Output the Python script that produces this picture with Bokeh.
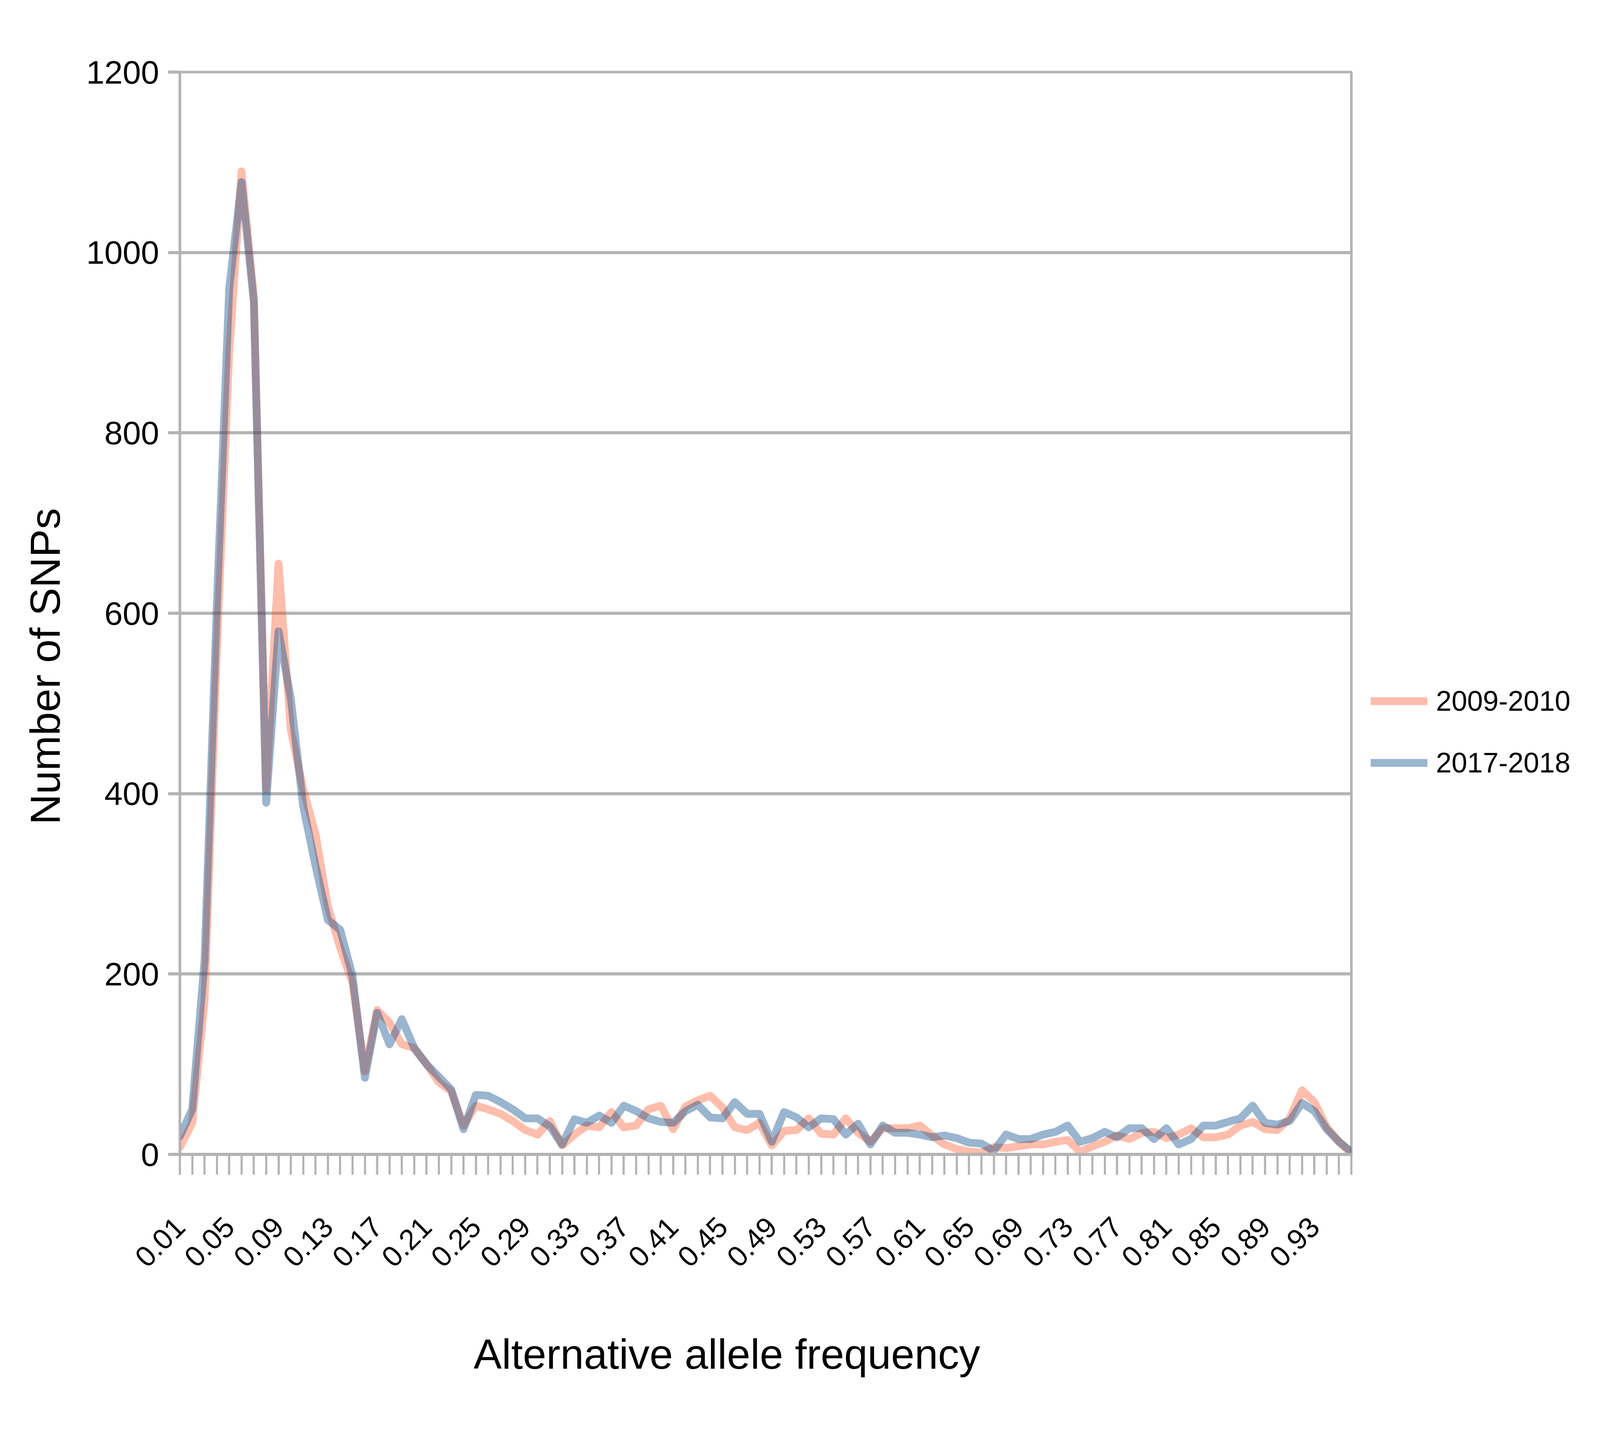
import math

from bokeh.embed import file_html
from bokeh.models import (ColumnDataSource, FixedTicker, Legend, LegendItem,
                          Range1d, Title)
from bokeh.plotting import figure
from bokeh.resources import INLINE

# alternative allele frequency bins (x categories)
freq = ["0.01", "0.02", "0.03", "0.04", "0.05", "0.06", "0.07", "0.08", "0.09", "0.10",
        "0.11", "0.12", "0.13", "0.14", "0.15", "0.16", "0.17", "0.18", "0.19", "0.20",
        "0.21", "0.22", "0.23", "0.24", "0.25", "0.26", "0.27", "0.28", "0.29", "0.30",
        "0.31", "0.32", "0.33", "0.34", "0.35", "0.36", "0.37", "0.38", "0.39", "0.40",
        "0.41", "0.42", "0.43", "0.44", "0.45", "0.46", "0.47", "0.48", "0.49", "0.50",
        "0.51", "0.52", "0.53", "0.54", "0.55", "0.56", "0.57", "0.58", "0.59", "0.60",
        "0.61", "0.62", "0.63", "0.64", "0.65", "0.66", "0.67", "0.68", "0.69", "0.70",
        "0.71", "0.72", "0.73", "0.74", "0.75", "0.76", "0.77", "0.78", "0.79", "0.80",
        "0.81", "0.82", "0.83", "0.84", "0.85", "0.86", "0.87", "0.88", "0.89", "0.90",
        "0.91", "0.92", "0.93", "0.94", "0.95", "0.96"]

# number of SNPs per bin
snps_2009 = [8, 35, 170, 560, 890, 1090, 950, 405, 655, 470,
             405, 355, 275, 229, 190, 92, 160, 146, 122, 118,
             100, 80, 70, 32, 54, 50, 45, 37, 27, 22,
             37, 10, 22, 32, 30, 47, 30, 32, 50, 54,
             28, 53, 60, 65, 52, 30, 27, 35, 10, 26,
             27, 40, 23, 22, 40, 24, 14, 29, 29, 29,
             32, 21, 11, 6, 3, 2, 8, 7, 9, 11,
             11, 14, 16, 3, 9, 14, 21, 17, 24, 25,
             18, 22, 29, 19, 19, 22, 32, 36, 28, 27,
             40, 71, 58, 30, 14, 1]

snps_2017 = [20, 50, 215, 610, 960, 1078, 945, 390, 580, 505,
             386, 320, 260, 249, 198, 85, 157, 122, 150, 118,
             100, 86, 72, 28, 66, 65, 58, 50, 40, 40,
             31, 11, 39, 35, 43, 35, 54, 48, 40, 36,
             35, 48, 55, 41, 40, 58, 45, 45, 14, 47,
             41, 30, 40, 39, 22, 34, 11, 32, 24, 24,
             22, 19, 21, 18, 13, 12, 4, 22, 17, 17,
             22, 25, 32, 14, 18, 25, 19, 29, 29, 17,
             29, 11, 17, 32, 32, 36, 40, 54, 35, 33,
             37, 57, 48, 28, 14, 3]

y_ticks = [0, 200, 400, 600, 800, 1000, 1200]

GREY = "#b3b3b3"
FONT = "Liberation Sans"
H_LINE = 8     # horizontal strokes
V_LINE = 5.3   # vertical strokes

idx = list(range(len(freq)))
src = ColumnDataSource(data=dict(x=idx, a=snps_2009, b=snps_2017))

# fixed frame so the legend panel cannot squeeze the plot area
p = figure(frame_width=2999, frame_height=2770, output_backend="svg",
           toolbar_location=None,
           x_range=Range1d(0, len(freq) - 1), y_range=Range1d(0, 1200),
           min_border_left=460, min_border_right=701,
           min_border_top=184, min_border_bottom=718,
           background_fill_color="white", border_fill_color="white")

r1 = p.line("x", "a", source=src, line_color="#ff420e", line_alpha=0.35,
            line_width=20, line_join="round", line_cap="round")
r2 = p.line("x", "b", source=src, line_color="#004586", line_alpha=0.4,
            line_width=20, line_join="round", line_cap="round")

p.outline_line_color = GREY
p.outline_line_width = 6.5

# x axis: a tick on every bin, a label on every 4th
major = idx[::4]
p.xaxis.ticker = FixedTicker(ticks=major, minor_ticks=idx)
p.xaxis.major_label_overrides = {i: freq[i] for i in major}
p.xaxis.major_label_orientation = math.pi / 4
p.xaxis.major_label_text_font = FONT
p.xaxis.major_label_text_font_size = "74px"
p.xaxis.major_label_text_color = "black"
p.xaxis.major_label_standoff = 121
p.xaxis.major_tick_out = 52
p.xaxis.major_tick_in = 0
p.xaxis.minor_tick_out = 52
p.xaxis.minor_tick_in = 0
p.xaxis.major_tick_line_color = GREY
p.xaxis.minor_tick_line_color = GREY
p.xaxis.major_tick_line_width = V_LINE
p.xaxis.minor_tick_line_width = V_LINE
p.xaxis.axis_line_color = GREY
p.xaxis.axis_line_width = H_LINE

p.yaxis.ticker = FixedTicker(ticks=y_ticks, minor_ticks=[])
p.yaxis.major_label_text_font = FONT
p.yaxis.major_label_text_font_size = "84px"
p.yaxis.major_label_text_color = "black"
p.yaxis.major_label_standoff = 23
p.yaxis.major_tick_out = 30
p.yaxis.major_tick_in = 0
p.yaxis.major_tick_line_color = GREY
p.yaxis.major_tick_line_width = H_LINE
p.yaxis.axis_line_color = GREY
p.yaxis.axis_line_width = V_LINE

p.xgrid.grid_line_color = None
p.ygrid.grid_line_color = GREY
p.ygrid.grid_line_width = H_LINE

# axis titles, off-centre as in the original
p.add_layout(Title(text="Alternative allele frequency", align="left", offset=752,
                   standoff=268, text_font=FONT, text_font_size="108px",
                   text_font_style="normal", text_color="black"), "below")
p.add_layout(Title(text="Number of SNPs", align="left", offset=844,
                   standoff=84, text_font=FONT, text_font_size="108px",
                   text_font_style="normal", text_color="black"), "left")

# invisible border so that the padding is applied and shifts the entries right
legend = Legend(items=[LegendItem(label="2009-2010", renderers=[r1]),
                       LegendItem(label="2017-2018", renderers=[r2])],
                location=(0, 892), orientation="vertical",
                padding=50, margin=0, spacing=38,
                glyph_width=145, glyph_height=120, label_height=120,
                label_standoff=22, label_text_font=FONT,
                label_text_font_size="72px", label_text_color="black",
                border_line_color="white", border_line_alpha=0,
                background_fill_alpha=0)
p.add_layout(legend, "right")

open("out.html", "w").write(file_html(p, INLINE))
